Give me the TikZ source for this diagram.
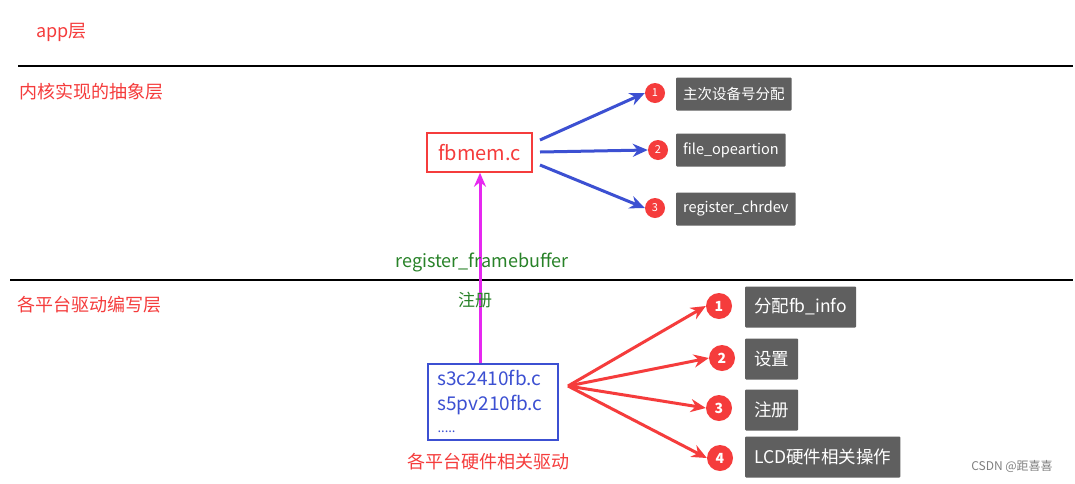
\documentclass[tikz,border=0pt]{standalone}
\usepackage{fontspec}
\setmainfont{Noto Sans CJK SC}
\usetikzlibrary{arrows.meta}
\definecolor{rd}{RGB}{245,60,60}
\definecolor{bl}{RGB}{60,80,210}
\definecolor{gb}{RGB}{95,95,95}
\definecolor{gr}{RGB}{40,130,40}
\definecolor{mg}{RGB}{230,40,240}
\tikzset{
 lab/.style={text=rd,font=\fontsize{18}{18}\selectfont,anchor=west},
 tagS/.style={fill=gb,text=white,font=\fontsize{14.5}{14.5}\selectfont,minimum height=33pt,anchor=west,inner xsep=7pt,rounded corners=1pt},
 tagL/.style={fill=gb,text=white,font=\fontsize{17.5}{17.5}\selectfont,minimum height=41pt,anchor=west,inner xsep=9pt,rounded corners=1pt},
 numS/.style={circle,fill=rd,text=white,minimum size=20pt,inner sep=0pt,font=\fontsize{11}{11}\selectfont},
 numL/.style={circle,fill=rd,text=white,minimum size=26pt,inner sep=0pt,font=\bfseries\fontsize{14}{14}\selectfont},
 barr/.style={bl,line width=3pt,-{Stealth[length=15pt,width=13pt]}},
 rarr/.style={rd,line width=3pt,-{Stealth[length=15pt,width=13pt]}},
}
\begin{document}
\begin{tikzpicture}[x=1pt,y=-1pt]
\useasboundingbox[fill=white] (0,0) rectangle (1075,483);
\draw[line width=2pt] (18,66) -- (1073,66);
\draw[line width=2pt] (10,280) -- (1073,280);
\node[lab] (app) at (33,32) {app层};
\node[lab] (kern) at (16,92) {内核实现的抽象层};
\node[lab] (drv) at (14,305) {各平台驱动编写层};
\node[draw=rd,line width=1.5pt,minimum width=105pt,minimum height=39pt,text=rd,font=\fontsize{20}{20}\selectfont] (fb) at (479.5,152.5) {fbmem.c};
\node[numS] (c1) at (655,93) {1};
\node[numS] (c2) at (658,150) {2};
\node[numS] (c3) at (655,208) {3};
\node[tagS] (t1) at (676,94) {主次设备号分配};
\node[tagS] (t2) at (676,150) {file\_opeartion};
\node[tagS] (t3) at (676,209) {register\_chrdev};
\coordinate (fa) at (540,140);\coordinate (fbb) at (540,152);\coordinate (fc) at (540,165);
\draw[barr] (fa) -- (c1.west);
\draw[barr] (fbb) -- (c2.west);
\draw[barr] (fc) -- (c3.west);
\node[draw=bl,line width=1.5pt,minimum width=130pt,minimum height=76pt] (s3) at (493,402) {};
\node[text=bl,font=\fontsize{19}{19}\selectfont,anchor=west] (sa) at (434,378) {s3c2410fb.c};
\node[text=bl,font=\fontsize{19}{19}\selectfont,anchor=west] (sb) at (434,405) {s5pv210fb.c};
\node[text=bl,font=\fontsize{13}{13}\selectfont,anchor=west] (sc) at (434,432) {.....};
\node[text=rd,font=\fontsize{18}{18}\selectfont] (hw) at (488,462) {各平台硬件相关驱动};
\draw[mg,line width=3pt,-{Stealth[length=14pt,width=12pt]}] (s3.north) ++(-13,0) coordinate (m0) -- (fb.south -| m0);
\node[text=gr,font=\fontsize{18}{18}\selectfont] (rf) at (482,262) {register\_framebuffer};
\node[text=gr,font=\fontsize{17}{17}\selectfont] (zc) at (475,300) {注册};
\node[numL] (d1) at (719,306) {1};
\node[numL] (d2) at (722,358) {2};
\node[numL] (d3) at (719,408) {3};
\node[numL] (d4) at (720,458) {4};
\node[tagL] (u1) at (745,307) {分配fb\_info};
\node[tagL] (u2) at (745,359) {设置};
\node[tagL] (u3) at (745,410) {注册};
\node[tagL] (u4) at (745,457) {LCD硬件相关操作};
\coordinate (r0) at (568,386);
\draw[rarr] (r0) -- (d1.west);
\draw[rarr] (r0) -- (d2.west);
\draw[rarr] (r0) -- (d3.west);
\draw[rarr] (r0) -- (d4.west);
\node[text=gray,font=\fontsize{12}{12}\selectfont] (wm) at (1012,466) {CSDN @距喜喜};
\end{tikzpicture}
\end{document}
